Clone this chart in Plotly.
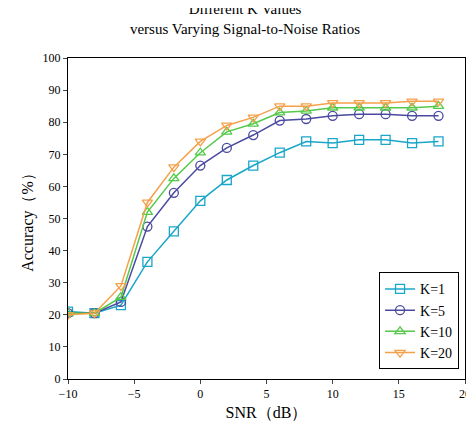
import plotly.graph_objects as go

snr = [-10, -8, -6, -4, -2, 0, 2, 4, 6, 8, 10, 12, 14, 16, 18]
k1 = [21, 20.5, 23, 36.5, 46, 55.5, 62, 66.5, 70.5, 74, 73.5, 74.5, 74.5, 73.5, 74]
k5 = [20.5, 20.5, 24, 47.5, 58, 66.5, 72, 76, 80.5, 81, 82, 82.5, 82.5, 82, 82]
k10 = [20.5, 20.5, 25.5, 52, 62.5, 70.5, 77, 79.5, 83, 83.5, 84.5, 84.5, 84.5, 84.5, 85]
k20 = [20, 20.5, 29, 55, 66, 74, 79, 81.5, 85, 85, 86, 86, 86, 86.5, 86.5]

series = [("K=1", k1, "#1aa6c8", "square-open"),
          ("K=5", k5, "#4a4aa0", "circle-open"),
          ("K=10", k10, "#55c94a", "triangle-up-open"),
          ("K=20", k20, "#f5a04a", "triangle-down-open")]

fig = go.Figure()
for name, y, c, sym in series:
    fig.add_trace(go.Scatter(x=snr, y=y, name=name, mode="lines+markers",
                             line=dict(color=c, width=1.5),
                             marker=dict(symbol=sym, size=9, color=c, line=dict(width=1.3, color=c))))

font = dict(family="Liberation Serif, DejaVu Serif, serif", color="black")
axis = dict(showline=True, linecolor="black", mirror=True, ticks="outside", ticklen=4,
            showgrid=False, zeroline=False, tickfont=dict(size=12, **font))
fig.update_layout(
    width=474, height=427, plot_bgcolor="white", paper_bgcolor="white",
    margin=dict(l=60, r=11, t=50, b=56),
    title=dict(text="Different K Values<br>versus Varying Signal-to-Noise Ratios",
               x=0.5, xanchor="center", y=0.985, yanchor="top", font=dict(size=15, **font)),
    xaxis=dict(range=[-10, 20], dtick=5, title=dict(text="SNR（dB）", font=dict(size=16, **font), standoff=6), **axis),
    yaxis=dict(range=[0, 100], dtick=10, title=dict(text="Accuracy（%）", font=dict(size=16, **font), standoff=4), **axis),
    legend=dict(x=0.985, y=0.03, xanchor="right", yanchor="bottom", bordercolor="black", borderwidth=1,
                font=dict(size=14, **font), bgcolor="white", tracegroupgap=0),
)
fig.write_html("out.html")
